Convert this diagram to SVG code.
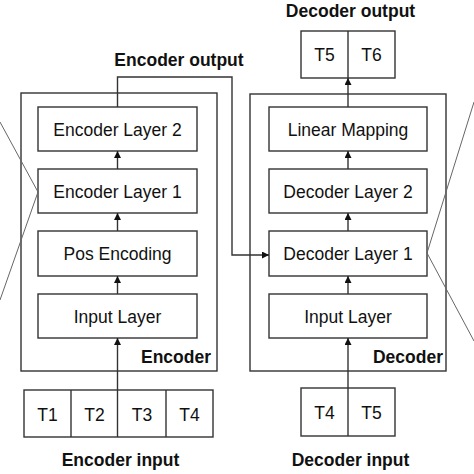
<svg xmlns="http://www.w3.org/2000/svg" width="474" height="474" viewBox="0 0 474 474">
<defs>
<marker id="ah" viewBox="0 0 8 8" refX="8" refY="4" markerWidth="7" markerHeight="7" markerUnits="userSpaceOnUse" orient="auto">
<path d="M0,0 L8,4 L0,8 z" fill="#111"/>
</marker>
<style>
.box{fill:#fff;stroke:#333;stroke-width:1.4}
.frame{fill:none;stroke:#333;stroke-width:1.4}
.lbl{font-family:"Liberation Sans",Arial,sans-serif;font-size:17.5px;fill:#111;text-anchor:middle}
.bold{font-family:"Liberation Sans",Arial,sans-serif;font-size:17.5px;font-weight:bold;fill:#111}
.conn{fill:none;stroke:#333;stroke-width:1.4}
.diag{fill:none;stroke:#666;stroke-width:1}
</style>
</defs>
<rect width="474" height="474" fill="#fff"/>

<g id="encoder">
<rect class="frame" x="21" y="93" width="196" height="278"/>
<text class="bold" x="211" y="363" text-anchor="end">Encoder</text>
</g>
<g id="decoder">
<rect class="frame" x="250" y="94" width="196" height="277"/>
<text class="bold" x="443" y="363" text-anchor="end">Decoder</text>
</g>

<g id="enc-layer2"><rect class="box" x="38" y="107" width="159" height="44"/><text class="lbl" x="117.5" y="136">Encoder Layer 2</text></g>
<g id="enc-layer1"><rect class="box" x="38" y="169" width="159" height="44"/><text class="lbl" x="117.5" y="198">Encoder Layer 1</text></g>
<g id="enc-pos"><rect class="box" x="38" y="231" width="159" height="45"/><text class="lbl" x="117.5" y="260">Pos Encoding</text></g>
<g id="enc-input"><rect class="box" x="38" y="294" width="159" height="44"/><text class="lbl" x="117.5" y="323">Input Layer</text></g>

<g id="dec-linear"><rect class="box" x="269" y="107" width="158" height="44"/><text class="lbl" x="348" y="136">Linear Mapping</text></g>
<g id="dec-layer2"><rect class="box" x="269" y="169" width="158" height="44"/><text class="lbl" x="348" y="198">Decoder Layer 2</text></g>
<g id="dec-layer1"><rect class="box" x="269" y="231" width="158" height="45"/><text class="lbl" x="348" y="260">Decoder Layer 1</text></g>
<g id="dec-input"><rect class="box" x="269" y="294" width="158" height="44"/><text class="lbl" x="348" y="323">Input Layer</text></g>

<g id="enc-tokens">
<rect class="box" x="24" y="390" width="189" height="47"/>
<line class="conn" x1="71" y1="390" x2="71" y2="437"/>
<line class="conn" x1="166" y1="390" x2="166" y2="437"/>
<text class="lbl" x="47.5" y="421">T1</text>
<text class="lbl" x="94.5" y="421">T2</text>
<text class="lbl" x="142" y="421">T3</text>
<text class="lbl" x="189.5" y="421">T4</text>
<text class="bold" x="120.5" y="466" text-anchor="middle">Encoder input</text>
</g>

<g id="dec-tokens">
<rect class="box" x="301" y="388" width="94" height="48"/>
<text class="lbl" x="324.5" y="419">T4</text>
<text class="lbl" x="371.5" y="419">T5</text>
<text class="bold" x="350.5" y="466" text-anchor="middle">Decoder input</text>
</g>

<g id="dec-output">
<rect class="box" x="301" y="31" width="94" height="47"/>
<line class="conn" x1="348" y1="31" x2="348" y2="78"/>
<text class="lbl" x="324.5" y="61">T5</text>
<text class="lbl" x="371.5" y="61">T6</text>
<text class="bold" x="350.5" y="17" text-anchor="middle">Decoder output</text>
</g>

<g id="enc-output-label">
<text class="bold" x="179" y="66" text-anchor="middle">Encoder output</text>
</g>

<g id="connectors">
<line class="conn" x1="117.5" y1="437" x2="117.5" y2="338" marker-end="url(#ah)"/>
<line class="conn" x1="117.5" y1="294" x2="117.5" y2="276" marker-end="url(#ah)"/>
<line class="conn" x1="117.5" y1="231" x2="117.5" y2="213" marker-end="url(#ah)"/>
<line class="conn" x1="117.5" y1="169" x2="117.5" y2="151" marker-end="url(#ah)"/>
<polyline class="conn" points="117.5,107 117.5,77 232,77 232,255 269,255" marker-end="url(#ah)"/>
<line class="conn" x1="348" y1="436" x2="348" y2="338" marker-end="url(#ah)"/>
<line class="conn" x1="348" y1="294" x2="348" y2="276" marker-end="url(#ah)"/>
<line class="conn" x1="348" y1="231" x2="348" y2="213" marker-end="url(#ah)"/>
<line class="conn" x1="348" y1="169" x2="348" y2="151" marker-end="url(#ah)"/>
<line class="conn" x1="348" y1="107" x2="348" y2="78" marker-end="url(#ah)"/>
<polyline class="diag" points="0,122 38,192 0,300"/>
<polyline class="diag" points="474,102 427,253 474,341"/>
</g>
</svg>
